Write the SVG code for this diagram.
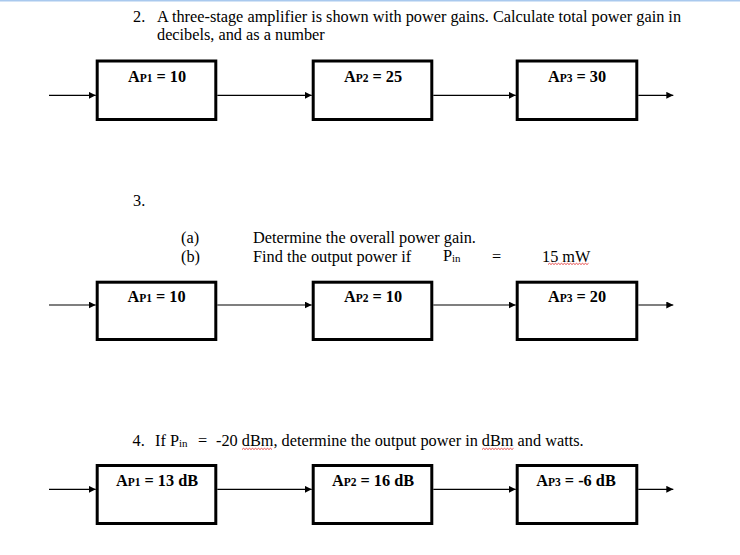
<svg xmlns="http://www.w3.org/2000/svg" width="740" height="555" viewBox="0 0 740 555">
<defs>
<style>
text{font-family:"Liberation Serif","Times New Roman",serif;fill:#000}
.t{font-size:16.3px}
.lbl{font-size:16.3px;font-weight:bold;text-anchor:middle}
.sub{font-size:11.5px}
.sb{font-size:11px}
.box{fill:#fff;stroke:#000;stroke-width:3}
.wire{stroke:#000;stroke-width:1.2;fill:none;marker-end:url(#ah)}
.wavy{stroke:#e02020;stroke-width:0.8;fill:none}
</style>
<marker id="ah" markerUnits="userSpaceOnUse" markerWidth="8" markerHeight="8" refX="7" refY="3.5" orient="auto">
<path d="M0,0 L7,3.5 L0,7 z" fill="#000"/>
</marker>
</defs>
<rect x="0" y="0" width="740" height="555" fill="#fff"/>
<line x1="0" y1="0.8" x2="740" y2="0.8" stroke="#a9c9ee" stroke-width="1.6"/>

<g id="texts">
<text class="t" x="133" y="22">2.</text>
<text class="t" x="157" y="22">A three-stage amplifier is shown with power gains. Calculate total power gain in</text>
<text class="t" x="157" y="40">decibels, and as a number</text>
<text class="t" x="133" y="206">3.</text>
<text class="t" x="181" y="243">(a)</text>
<text class="t" x="253" y="243">Determine the overall power gain.</text>
<text class="t" x="181" y="262">(b)</text>
<text class="t" x="253" y="262">Find the output power if</text>
<text class="t" x="443" y="261">P<tspan class="sb" dy="1">in</tspan></text>
<text class="t" x="492" y="262">=</text>
<text class="t" x="542" y="262">15 mW</text>
<path class="wavy" d="M548,264.5 l1.5,-1.2 l1.5,1.2 l1.5,-1.2 l1.5,1.2 l1.5,-1.2 l1.5,1.2 l1.5,-1.2 l1.5,1.2 l1.5,-1.2 l1.5,1.2 l1.5,-1.2 l1.5,1.2 l1.5,-1.2 l1.5,1.2 l1.5,-1.2 l1.5,1.2 l1.5,-1.2 l1.5,1.2 l1.5,-1.2 l1.5,1.2 l1.5,-1.2 l1.5,1.2 l1.5,-1.2 l1.5,1.2 l1.5,-1.2 l1.5,1.2 l1.5,-1.2"/>
<text class="t" x="132.5" y="446">4.</text>
<text class="t" x="155" y="446">If P<tspan class="sb" dy="1">in</tspan></text>
<text class="t" x="198" y="446">=</text>
<text class="t" x="216" y="446">-20 dBm, determine the output power in dBm and watts.</text>
<path class="wavy" d="M242,449.5 l1.5,-1.2 l1.5,1.2 l1.5,-1.2 l1.5,1.2 l1.5,-1.2 l1.5,1.2 l1.5,-1.2 l1.5,1.2 l1.5,-1.2 l1.5,1.2 l1.5,-1.2 l1.5,1.2 l1.5,-1.2 l1.5,1.2 l1.5,-1.2 l1.5,1.2 l1.5,-1.2 l1.5,1.2 l1.5,-1.2 l1.5,1.2"/>
<path class="wavy" d="M482,449.5 l1.5,-1.2 l1.5,1.2 l1.5,-1.2 l1.5,1.2 l1.5,-1.2 l1.5,1.2 l1.5,-1.2 l1.5,1.2 l1.5,-1.2 l1.5,1.2 l1.5,-1.2 l1.5,1.2 l1.5,-1.2 l1.5,1.2 l1.5,-1.2 l1.5,1.2 l1.5,-1.2 l1.5,1.2 l1.5,-1.2 l1.5,1.2 l1.5,-1.2"/>
</g>

<g id="connectors">
<line class="wire" x1="49" y1="95.3" x2="95.7" y2="95.3"/>
<line class="wire" x1="217.3" y1="95.3" x2="311.7" y2="95.3"/>
<line class="wire" x1="433.3" y1="95.3" x2="515.7" y2="95.3"/>
<line class="wire" x1="638.3" y1="95.3" x2="673.3" y2="95.3"/>
<line class="wire" x1="49" y1="305" x2="95.7" y2="305"/>
<line class="wire" x1="217.3" y1="305" x2="311.7" y2="305"/>
<line class="wire" x1="433.3" y1="305" x2="515.7" y2="305"/>
<line class="wire" x1="638.3" y1="305" x2="673.3" y2="305"/>
<line class="wire" x1="49" y1="489.3" x2="95.7" y2="489.3"/>
<line class="wire" x1="217.3" y1="489.3" x2="311.7" y2="489.3"/>
<line class="wire" x1="433.3" y1="489.3" x2="515.7" y2="489.3"/>
<line class="wire" x1="638.3" y1="489.3" x2="673.3" y2="489.3"/>
</g>

<g id="q2-ap1"><rect class="box" x="97.2" y="61" width="118.6" height="58.5"/><text class="lbl" x="157" y="82.3">A<tspan class="sub">P1</tspan> = 10</text></g>
<g id="q2-ap2"><rect class="box" x="313.2" y="61" width="118.6" height="58.5"/><text class="lbl" x="373" y="82.3">A<tspan class="sub">P2</tspan> = 25</text></g>
<g id="q2-ap3"><rect class="box" x="517.2" y="61" width="119.6" height="58.5"/><text class="lbl" x="577" y="82.3">A<tspan class="sub">P3</tspan> = 30</text></g>

<g id="q3-ap1"><rect class="box" x="97.2" y="282.2" width="118.6" height="57.3"/><text class="lbl" x="156.5" y="301.7">A<tspan class="sub">P1</tspan> = 10</text></g>
<g id="q3-ap2"><rect class="box" x="313.2" y="282.2" width="118.6" height="57.3"/><text class="lbl" x="373" y="301.7">A<tspan class="sub">P2</tspan> = 10</text></g>
<g id="q3-ap3"><rect class="box" x="517.2" y="282.2" width="119.6" height="57.3"/><text class="lbl" x="577" y="301.7">A<tspan class="sub">P3</tspan> = 20</text></g>

<g id="q4-ap1"><rect class="box" x="97.2" y="465.5" width="118.6" height="58"/><text class="lbl" x="157" y="485.7">A<tspan class="sub">P1</tspan> = 13 dB</text></g>
<g id="q4-ap2"><rect class="box" x="313.2" y="465.5" width="118.6" height="58"/><text class="lbl" x="373" y="485.7">A<tspan class="sub">P2</tspan> = 16 dB</text></g>
<g id="q4-ap3"><rect class="box" x="517.2" y="465.5" width="119.6" height="58"/><text class="lbl" x="576" y="485.7">A<tspan class="sub">P3</tspan> = -6 dB</text></g>
</svg>
